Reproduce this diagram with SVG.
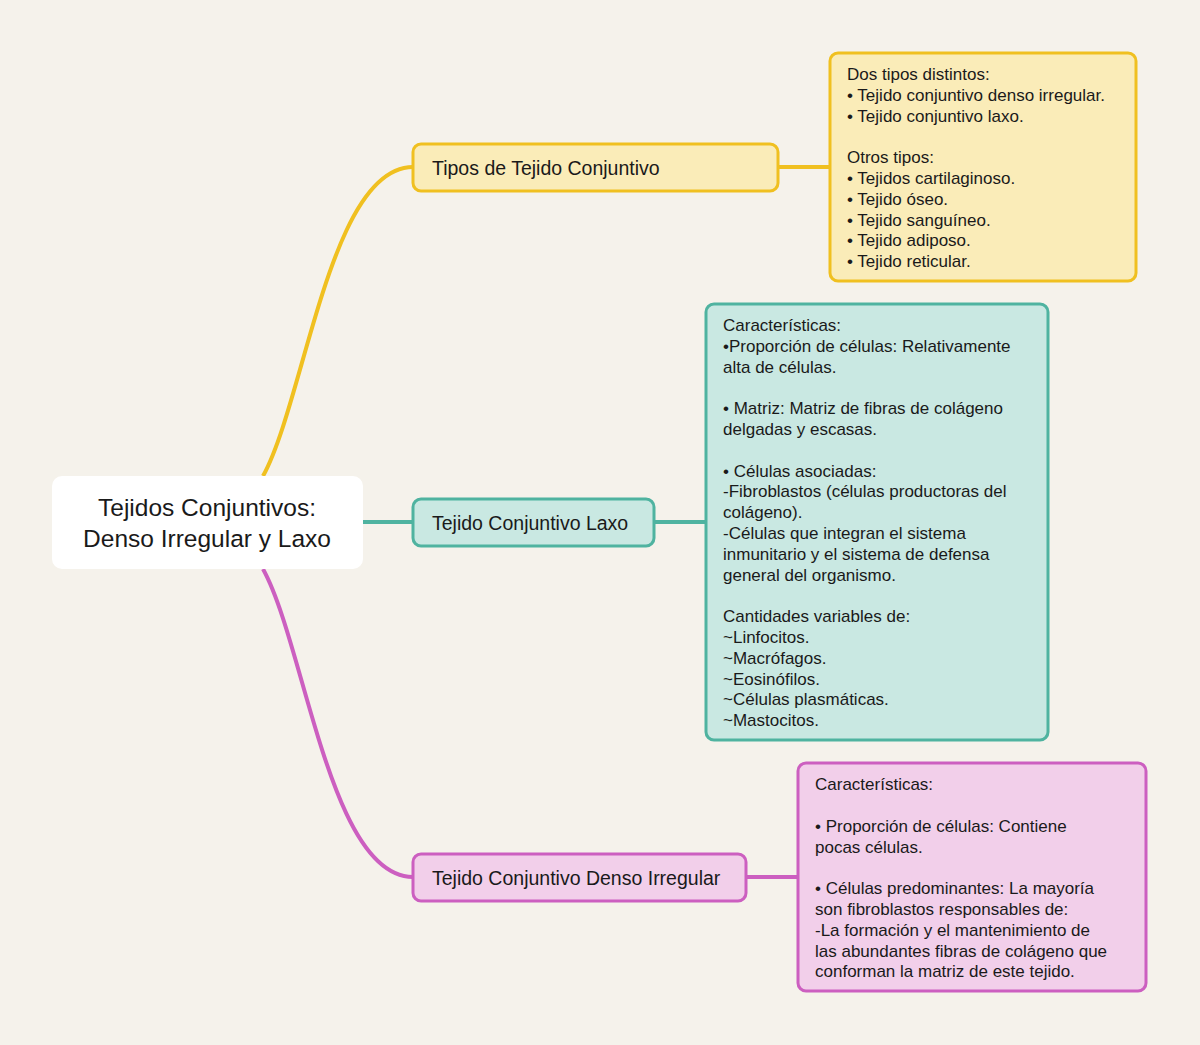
<svg xmlns="http://www.w3.org/2000/svg" width="1200" height="1045" viewBox="0 0 1200 1045">
<style>
text{font-family:"Liberation Sans",Arial,sans-serif;fill:#1a1a1a}
.n{font-size:19.5px}
.d{font-size:17px}
.c{fill:none;stroke-width:4}
</style>
<rect width="1200" height="1045" fill="#f5f2eb"/>
<g id="connectors">
<path class="c" stroke="#f0c020" d="M263,476 C305,400 330,167 413,167"/>
<path class="c" stroke="#f0c020" d="M778,167 H830"/>
<path class="c" stroke="#4fb3a0" d="M363,522 H413 M654,522 H706"/>
<path class="c" stroke="#cc5fc0" d="M263,569 C305,645 330,877 413,877"/>
<path class="c" stroke="#cc5fc0" d="M746,877 H798"/>
</g>
<g id="root">
<rect x="52" y="476" width="311" height="93" rx="10" fill="#fff"/>
<text x="207" y="516" font-size="24.5" text-anchor="middle">Tejidos Conjuntivos:</text>
<text x="207" y="547" font-size="24.5" text-anchor="middle">Denso Irregular y Laxo</text>
</g>
<g id="tipos">
<rect x="413" y="144" width="365" height="47" rx="8" fill="#faecb8" stroke="#f0c020" stroke-width="3"/>
<text class="n" x="432" y="175">Tipos de Tejido Conjuntivo</text>
</g>
<g id="tipos-detail">
<rect x="830" y="53" width="306" height="228" rx="8" fill="#faecb8" stroke="#f0c020" stroke-width="3"/>
<text class="d" x="847" y="80">Dos tipos distintos:</text>
<text class="d" x="847" y="101">• Tejido conjuntivo denso irregular.</text>
<text class="d" x="847" y="122">• Tejido conjuntivo laxo.</text>
<text class="d" x="847" y="163">Otros tipos:</text>
<text class="d" x="847" y="184">• Tejidos cartilaginoso.</text>
<text class="d" x="847" y="205">• Tejido óseo.</text>
<text class="d" x="847" y="226">• Tejido sanguíneo.</text>
<text class="d" x="847" y="246">• Tejido adiposo.</text>
<text class="d" x="847" y="267">• Tejido reticular.</text>
</g>
<g id="laxo">
<rect x="413" y="499" width="241" height="47" rx="8" fill="#c9e8e2" stroke="#4fb3a0" stroke-width="3"/>
<text class="n" x="432" y="530">Tejido Conjuntivo Laxo</text>
</g>
<g id="laxo-detail">
<rect x="706" y="304" width="342" height="436" rx="8" fill="#c9e8e2" stroke="#4fb3a0" stroke-width="3"/>
<text class="d" x="723" y="331">Características:</text>
<text class="d" x="723" y="352">•Proporción de células: Relativamente</text>
<text class="d" x="723" y="373">alta de células.</text>
<text class="d" x="723" y="414">• Matriz: Matriz de fibras de colágeno</text>
<text class="d" x="723" y="435">delgadas y escasas.</text>
<text class="d" x="723" y="477">• Células asociadas:</text>
<text class="d" x="723" y="497">-Fibroblastos (células productoras del</text>
<text class="d" x="723" y="518">colágeno).</text>
<text class="d" x="723" y="539">-Células que integran el sistema</text>
<text class="d" x="723" y="560">inmunitario y el sistema de defensa</text>
<text class="d" x="723" y="581">general del organismo.</text>
<text class="d" x="723" y="622">Cantidades variables de:</text>
<text class="d" x="723" y="643">~Linfocitos.</text>
<text class="d" x="723" y="664">~Macrófagos.</text>
<text class="d" x="723" y="685">~Eosinófilos.</text>
<text class="d" x="723" y="705">~Células plasmáticas.</text>
<text class="d" x="723" y="726">~Mastocitos.</text>
</g>
<g id="denso">
<rect x="413" y="854" width="333" height="47" rx="8" fill="#f2cfea" stroke="#cc5fc0" stroke-width="3"/>
<text class="n" x="432" y="885">Tejido Conjuntivo Denso Irregular</text>
</g>
<g id="denso-detail">
<rect x="798" y="763" width="348" height="228" rx="8" fill="#f2cfea" stroke="#cc5fc0" stroke-width="3"/>
<text class="d" x="815" y="790">Características:</text>
<text class="d" x="815" y="832">• Proporción de células: Contiene</text>
<text class="d" x="815" y="853">pocas células.</text>
<text class="d" x="815" y="894">• Células predominantes: La mayoría</text>
<text class="d" x="815" y="915">son fibroblastos responsables de:</text>
<text class="d" x="815" y="936">-La formación y el mantenimiento de</text>
<text class="d" x="815" y="957">las abundantes fibras de colágeno que</text>
<text class="d" x="815" y="977">conforman la matriz de este tejido.</text>
</g>
</svg>
